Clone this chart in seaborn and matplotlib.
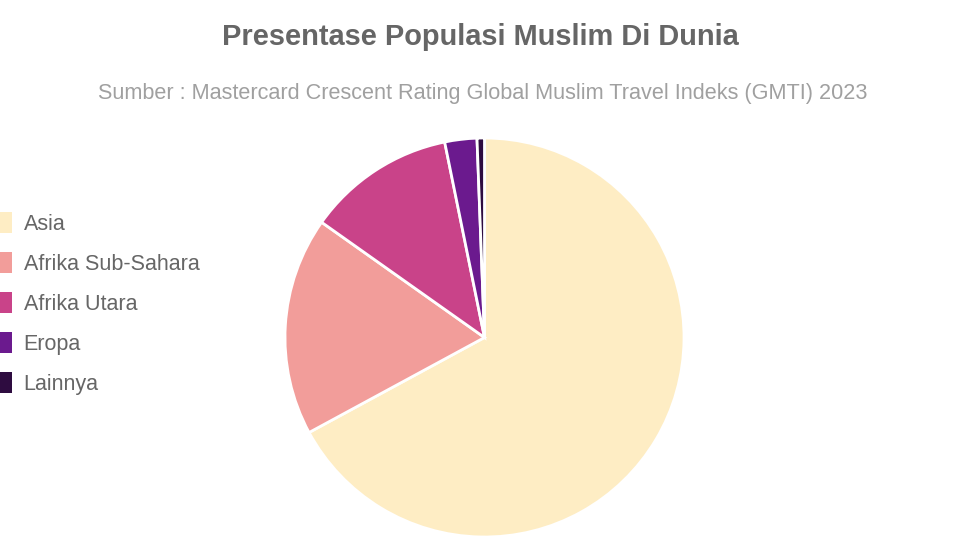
import matplotlib
matplotlib.use('Agg')
import matplotlib.pyplot as plt
import seaborn as sns

sns.set_theme(style='white')
plt.rcParams['font.family'] = ['Liberation Sans', 'DejaVu Sans']

# data
wilayah = ['Asia', 'Afrika Sub-Sahara', 'Afrika Utara', 'Eropa', 'Lainnya']
persen = [67.1, 17.7, 12.0, 2.6, 0.6]
warna = ['#FEEDC4', '#F29D9A', '#C94389', '#6B1A8E', '#2E0C40']

W, H = 968, 543
fig = plt.figure(figsize=(W / 100, H / 100), dpi=100)
fig.patch.set_facecolor('white')

# pie axes: center ~ (484.5, 337.5) px, radius ~201.5 px
cx, cy, r = 484.5, 337.5, 201.5
ax = fig.add_axes([(cx - r) / W, (H - cy - r) / H, 2 * r / W, 2 * r / H])
wedges, _ = ax.pie(persen, colors=warna, startangle=90, counterclock=False,
                   radius=1, wedgeprops=dict(edgecolor='white', linewidth=2))
ax.set_xlim(-1.01, 1.01)
ax.set_ylim(-1.01, 1.01)
ax.set_aspect('equal')
ax.axis('off')

fig.text(480 / W, 1 - 37 / H, 'Presentase Populasi Muslim Di Dunia',
         ha='center', va='center', fontsize=20.9, fontweight='bold', color='#666666')
fig.text(483 / W, 1 - 94 / H,
         'Sumber : Mastercard Crescent Rating Global Muslim Travel Indeks (GMTI) 2023',
         ha='center', va='center', fontsize=15.55, color='#a0a0a0')

leg = fig.legend(wedges, wilayah, loc='upper left',
                 bbox_to_anchor=(-5 / W, 1 - 212 / H),
                 frameon=False, fontsize=15.5, borderpad=0, borderaxespad=0,
                 handlelength=0.8, handleheight=1.15, handletextpad=0.53,
                 labelspacing=0.79)
for t in leg.get_texts():
    t.set_color('#666666')
for h in leg.legend_handles:
    h.set_edgecolor('none')

fig.savefig('out.png', dpi=100, facecolor='white')
